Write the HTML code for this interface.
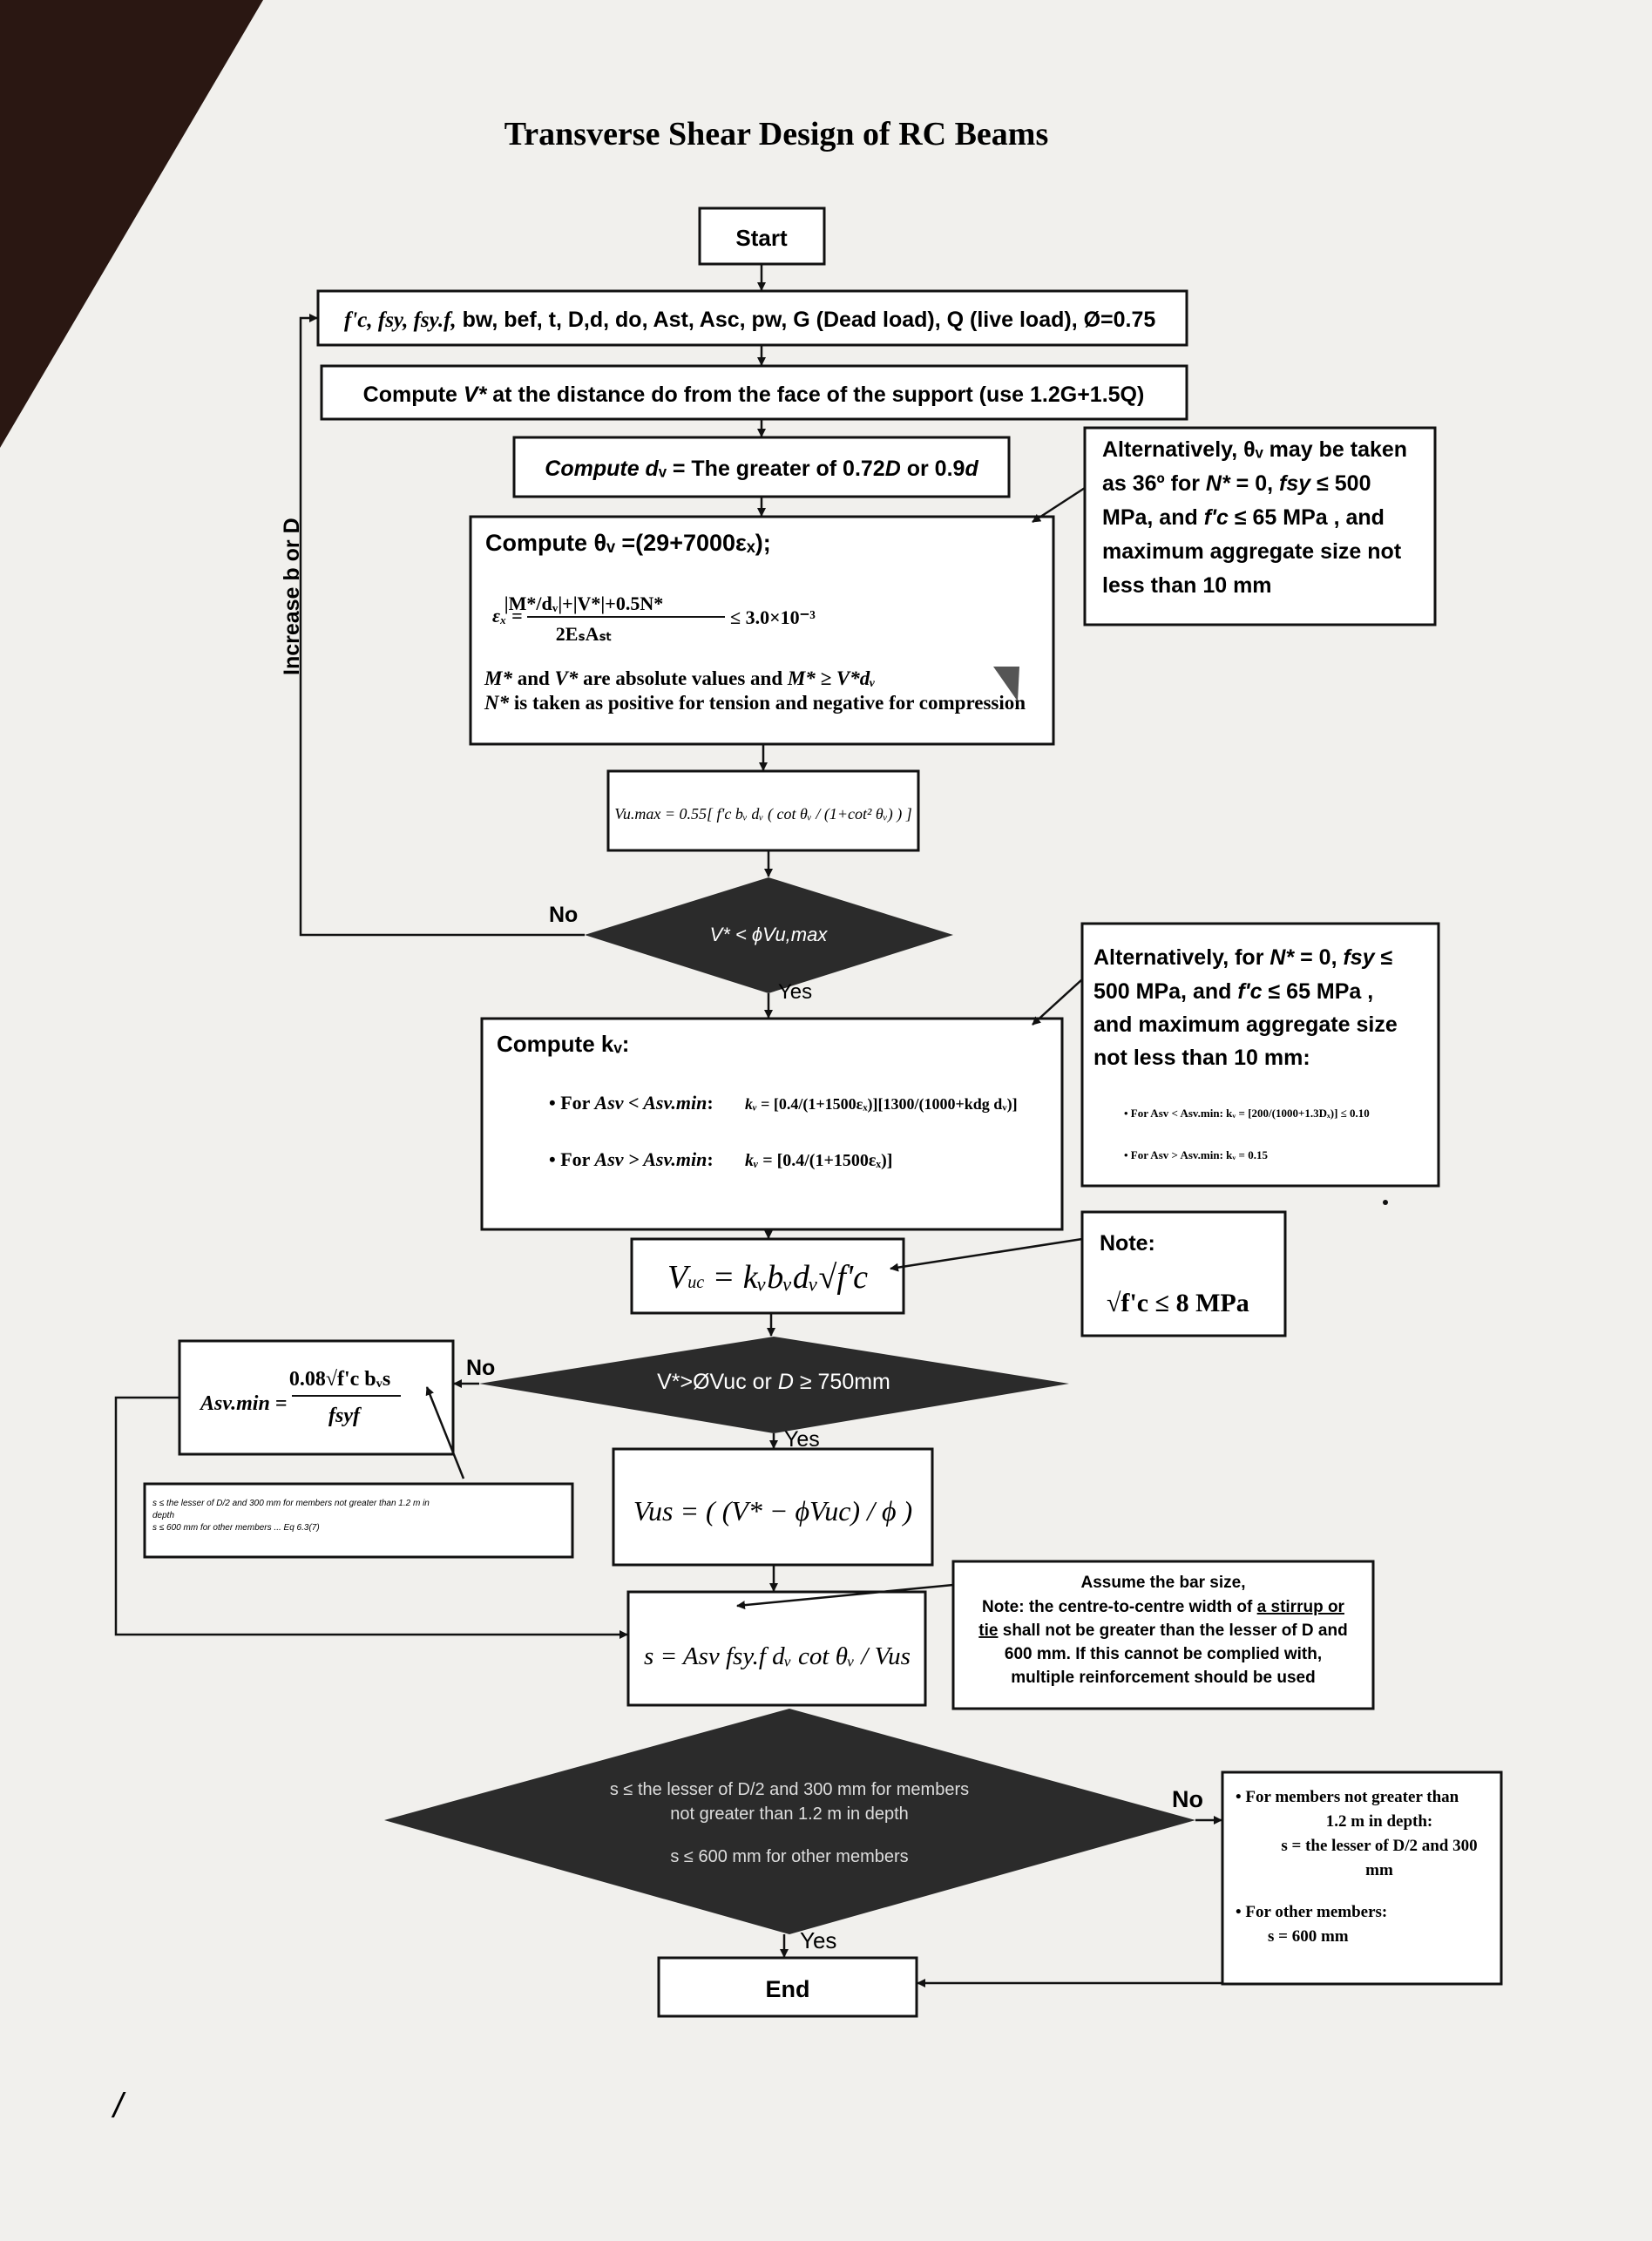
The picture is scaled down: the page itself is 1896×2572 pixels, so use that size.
<!DOCTYPE html>
<html><head><meta charset="utf-8"><style>
html,body{margin:0;padding:0;background:#f1f0ed;}
svg{display:block}
.s{font-family:"Liberation Sans",sans-serif;}
.r{font-family:"Liberation Serif",serif;}
</style></head><body>
<svg width="1896" height="2572" viewBox="0 0 1896 2572" xmlns="http://www.w3.org/2000/svg">
<defs><marker id="a" markerWidth="10" markerHeight="10" refX="9" refY="5" orient="auto" markerUnits="userSpaceOnUse"><path d="M0,0 L10,5 L0,10 z" fill="#111"/></marker></defs>
<rect width="1896" height="2572" fill="#f1f0ed"/>
<polygon points="0,0 302,0 0,514" fill="#2a1712"/>
<g stroke="#111" stroke-width="3" fill="#fff">
<rect x="803" y="239" width="143" height="64"/>
<rect x="365" y="334" width="997" height="62"/>
<rect x="369" y="420" width="993" height="61"/>
<rect x="590" y="502" width="568" height="68"/>
<rect x="540" y="593" width="669" height="261"/>
<rect x="1245" y="491" width="402" height="226"/>
<rect x="698" y="885" width="356" height="91"/>
<rect x="553" y="1169" width="666" height="242"/>
<rect x="1242" y="1060" width="409" height="301"/>
<rect x="725" y="1422" width="312" height="85"/>
<rect x="1242" y="1391" width="233" height="142"/>
<rect x="206" y="1539" width="314" height="130"/>
<rect x="166" y="1703" width="491" height="84"/>
<rect x="704" y="1663" width="366" height="133"/>
<rect x="721" y="1827" width="341" height="130"/>
<rect x="1094" y="1792" width="482" height="169"/>
<rect x="1403" y="2034" width="320" height="243"/>
<rect x="756" y="2247" width="296" height="67"/>
</g>
<g fill="#2b2b2b">
<polygon points="882,1007 1094,1073 882,1140 671,1073"/>
<polygon points="888,1534 1227,1588 888,1645 550,1588"/>
<polygon points="906,1961 1372,2089 906,2220 441,2089"/>
</g>
<g stroke="#111" stroke-width="2.5" fill="none" marker-end="url(#a)">
<line x1="874" y1="303" x2="874" y2="333"/>
<line x1="874" y1="396" x2="874" y2="419"/>
<line x1="874" y1="481" x2="874" y2="501"/>
<line x1="874" y1="570" x2="874" y2="592"/>
<line x1="876" y1="854" x2="876" y2="884"/>
<line x1="882" y1="976" x2="882" y2="1006"/>
<line x1="882" y1="1140" x2="882" y2="1168"/>
<line x1="882" y1="1411" x2="882" y2="1421"/>
<line x1="885" y1="1507" x2="885" y2="1533"/>
<line x1="888" y1="1645" x2="888" y2="1662"/>
<line x1="888" y1="1796" x2="888" y2="1826"/>
<line x1="900" y1="2220" x2="900" y2="2246"/>
<polyline points="671,1073 345,1073 345,365 364,365"/>
<line x1="550" y1="1588" x2="521" y2="1588"/>
<polyline points="206,1604 133,1604 133,1876 720,1876"/>
<line x1="1372" y1="2089" x2="1402" y2="2089"/>
<line x1="1403" y1="2276" x2="1053" y2="2276"/>
<line x1="1245" y1="560" x2="1185" y2="599"/>
<line x1="1242" y1="1124" x2="1185" y2="1176"/>
<line x1="1242" y1="1422" x2="1022" y2="1456"/>
<line x1="1094" y1="1819" x2="846" y2="1843"/>
<line x1="532" y1="1697" x2="490" y2="1592"/>
</g>
<text x="891" y="166" text-anchor="middle" class="r" font-size="38" font-weight="bold">Transverse Shear Design of RC Beams</text>
<text x="874" y="282" text-anchor="middle" class="s" font-size="26" font-weight="bold">Start</text>
<text x="395" y="375" class="s" font-size="25" font-weight="bold"><tspan class="r" font-style="italic">f'c, fsy, fsy.f,</tspan> bw, bef, t, D,d, do, Ast, Asc, pw, G (Dead load), Q (live load), Ø=0.75</text>
<text x="865" y="461" text-anchor="middle" class="s" font-size="25" font-weight="bold">Compute <tspan font-style="italic">V*</tspan> at the distance do from the face of the support (use 1.2G+1.5Q)</text>
<text x="874" y="546" text-anchor="middle" class="s" font-size="25" font-weight="bold"><tspan font-style="italic">Compute d</tspan>ᵥ = The greater of 0.72<tspan font-style="italic">D</tspan> or 0.9<tspan font-style="italic">d</tspan></text>
<text x="557" y="632" class="s" font-size="27" font-weight="bold">Compute θᵥ =(29+7000εₓ);</text>
<text x="565" y="714" class="r" font-size="22" font-weight="bold" font-style="italic">εₓ =</text>
<text x="670" y="700" text-anchor="middle" class="r" font-size="22" font-weight="bold">|M*/dᵥ|+|V*|+0.5N*</text>
<line x1="605" y1="708" x2="832" y2="708" stroke="#111" stroke-width="2"/>
<text x="670" y="735" text-anchor="middle" class="r" font-size="22" font-weight="bold">2EₛAₛₜ</text>
<text x="838" y="716" class="r" font-size="22" font-weight="bold">≤ 3.0×10⁻³</text>
<text x="556" y="786" class="r" font-size="23" font-weight="bold"><tspan font-style="italic">M*</tspan> and <tspan font-style="italic">V*</tspan> are absolute values and <tspan font-style="italic">M* ≥ V*dᵥ</tspan></text>
<text x="556" y="814" class="r" font-size="23" font-weight="bold"><tspan font-style="italic">N*</tspan> is taken as positive for tension and negative for compression</text>
<polygon points="1140,765 1170,765 1168,805" fill="#555"/>
<g class="s" font-size="25" font-weight="bold">
<text x="1265" y="524">Alternatively, θᵥ may be taken</text>
<text x="1265" y="563">as 36º for <tspan font-style="italic">N*</tspan> = 0, <tspan font-style="italic">fsy</tspan> ≤ 500</text>
<text x="1265" y="602">MPa,  and <tspan font-style="italic">f'c</tspan> ≤ 65 MPa , and</text>
<text x="1265" y="641">maximum aggregate size not</text>
<text x="1265" y="680">less than 10 mm</text>
</g>
<text x="876" y="940" text-anchor="middle" class="r" font-size="18" font-style="italic">Vu.max = 0.55[ f'c bᵥ dᵥ ( cot θᵥ / (1+cot² θᵥ) ) ]</text>
<text x="882" y="1080" text-anchor="middle" class="s" font-size="22" font-style="italic" fill="#fff">V* &lt; ϕVu,max</text>
<text x="630" y="1058" class="s" font-size="25" font-weight="bold">No</text>
<text x="893" y="1146" class="s" font-size="24">Yes</text>
<text transform="translate(343,775) rotate(-90)" class="s" font-size="25" font-weight="bold">Increase b or D</text>
<text x="570" y="1207" class="s" font-size="26" font-weight="bold">Compute kᵥ:</text>
<text x="630" y="1273" class="r" font-size="22" font-weight="bold">• For <tspan font-style="italic">Asv &lt; Asv.min</tspan>:</text>
<text x="630" y="1338" class="r" font-size="22" font-weight="bold">• For <tspan font-style="italic">Asv &gt; Asv.min</tspan>:</text>
<text x="855" y="1273" class="r" font-size="18" font-weight="bold"><tspan font-style="italic">kᵥ</tspan> = [0.4/(1+1500εₓ)][1300/(1000+kdg dᵥ)]</text>
<text x="855" y="1338" class="r" font-size="20" font-weight="bold"><tspan font-style="italic">kᵥ</tspan> = [0.4/(1+1500εₓ)]</text>
<g class="s" font-size="25" font-weight="bold">
<text x="1255" y="1107">Alternatively, for <tspan font-style="italic">N*</tspan> = 0, <tspan font-style="italic">fsy</tspan> ≤</text>
<text x="1255" y="1146">500 MPa,  and <tspan font-style="italic">f'c</tspan> ≤ 65 MPa ,</text>
<text x="1255" y="1184">and maximum aggregate size</text>
<text x="1255" y="1222">not less than 10 mm:</text>
</g>
<text x="1290" y="1282" class="r" font-size="13" font-weight="bold">•  For Asv &lt; Asv.min:    kᵥ = [200/(1000+1.3Dₓ)] ≤ 0.10</text>
<text x="1290" y="1330" class="r" font-size="13" font-weight="bold">•  For Asv &gt; Asv.min:    kᵥ = 0.15</text>
<text x="881" y="1478" text-anchor="middle" class="r" font-size="38" font-style="italic">V<tspan font-size="20">uc</tspan> = kᵥbᵥdᵥ√f'c</text>
<text x="1262" y="1435" class="s" font-size="25" font-weight="bold">Note:</text>
<text x="1270" y="1505" class="r" font-size="30" font-weight="bold">√f'c ≤ 8 MPa</text>
<text x="888" y="1594" text-anchor="middle" class="s" font-size="25" fill="#fff">V*&gt;ØVuc or <tspan font-style="italic">D</tspan> ≥ 750mm</text>
<text x="535" y="1578" class="s" font-size="25" font-weight="bold">No</text>
<text x="900" y="1660" class="s" font-size="25">Yes</text>
<text x="230" y="1618" class="r" font-size="24" font-weight="bold" font-style="italic">Asv.min =</text>
<text x="390" y="1590" text-anchor="middle" class="r" font-size="24" font-weight="bold">0.08√f'c bᵥs</text>
<line x1="335" y1="1602" x2="460" y2="1602" stroke="#111" stroke-width="2"/>
<text x="395" y="1632" text-anchor="middle" class="r" font-size="24" font-weight="bold" font-style="italic">fsyf</text>
<text x="175" y="1728" class="s" font-size="10" font-style="italic">s ≤ the lesser of D/2 and 300 mm for members not greater than 1.2 m in</text>
<text x="175" y="1742" class="s" font-size="10" font-style="italic">depth</text>
<text x="175" y="1756" class="s" font-size="10" font-style="italic">s ≤ 600 mm for other members      ... Eq 6.3(7)</text>
<text x="887" y="1745" text-anchor="middle" class="r" font-size="32" font-style="italic">Vus = ( (V* − ϕVuc) / ϕ )</text>
<text x="892" y="1910" text-anchor="middle" class="r" font-size="29" font-style="italic">s = Asv fsy.f dᵥ cot θᵥ / Vus</text>
<g class="s" font-size="19" font-weight="bold" text-anchor="middle">
<text x="1335" y="1822">Assume the bar size,</text>
<text x="1335" y="1850">Note: the centre-to-centre width of <tspan text-decoration="underline">a stirrup or</tspan></text>
<text x="1335" y="1877"><tspan text-decoration="underline">tie</tspan> shall not be greater than the lesser of D and</text>
<text x="1335" y="1904">600 mm. If this cannot be complied with,</text>
<text x="1335" y="1931">multiple reinforcement should be used</text>
</g>
<g class="s" font-size="20" fill="#ddd" text-anchor="middle">
<text x="906" y="2060">s ≤ the lesser of D/2 and 300 mm for members</text>
<text x="906" y="2088">not greater than 1.2 m in depth</text>
<text x="906" y="2137">s ≤ 600 mm for other members</text>
</g>
<text x="1345" y="2074" class="s" font-size="27" font-weight="bold">No</text>
<text x="918" y="2236" class="s" font-size="26">Yes</text>
<text x="904" y="2292" text-anchor="middle" class="s" font-size="27" font-weight="bold">End</text>
<g class="r" font-size="19" font-weight="bold">
<text x="1418" y="2068">•  For members not greater than</text>
<text x="1583" y="2096" text-anchor="middle">1.2 m in depth:</text>
<text x="1583" y="2124" text-anchor="middle">s = the lesser of D/2 and 300</text>
<text x="1583" y="2152" text-anchor="middle">mm</text>
<text x="1418" y="2200">•  For other members:</text>
<text x="1455" y="2228">s = 600 mm</text>
</g>
<text x="130" y="2430" class="s" font-size="40" font-style="italic">/</text>
<circle cx="1590" cy="1380" r="3" fill="#111"/>
</svg>
</body></html>
